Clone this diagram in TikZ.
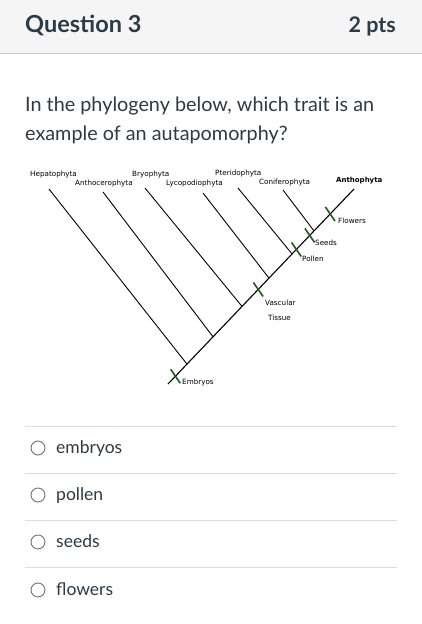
\documentclass[tikz,border=0pt]{standalone}
\usepackage{fontspec}
\setmainfont{Lato}
\newfontfamily\treefont{DejaVu Sans}
\usetikzlibrary{calc}
\definecolor{hdrbg}{HTML}{F5F5F5}
\definecolor{hdrline}{HTML}{C7CDD1}
\definecolor{txt}{HTML}{2D3B45}
\definecolor{sepline}{HTML}{DDDDDD}
\definecolor{tickgreen}{HTML}{1E5A1E}
\definecolor{radio}{HTML}{737373}
\tikzset{
  hdr/.style={anchor=base west,inner sep=0,text=txt,font=\bfseries\fontsize{23.5}{26}\selectfont},
  qtext/.style={anchor=base west,inner sep=0,text=txt,font=\fontsize{19.8}{23}\selectfont},
  opt/.style={anchor=base west,inner sep=0,text=txt,font=\fontsize{17.5}{20}\selectfont},
  radiobtn/.style={draw=radio,line width=0.9pt},
  sepl/.style={draw=sepline,line width=1pt},
  tlabel/.style={inner sep=0,font=\treefont\fontsize{7.2}{8}\selectfont},
  mainline/.style={draw=black,line width=1.1pt},
  branch/.style={draw=black,line width=0.9pt},
  trait/.style={draw=tickgreen,line width=1.6pt}
}
\begin{document}
\begin{tikzpicture}[x=1pt,y=-1pt]
\useasboundingbox (0,0) rectangle (422,624);
\fill[white] (0,0) rectangle (422,624);
% header
\fill[hdrbg] (0,0) rectangle (422,53);
\draw[hdrline,line width=1pt] (0,53) -- (422,53);
\node[hdr] (qtitle) at (25,32) {Question 3};
\node[hdr,anchor=base east,font=\bfseries\fontsize{21.5}{26}\selectfont] (pts) at (396,32) {2 pts};
% question
\node[qtext] (q1) at (25,111) {In the phylogeny below, which trait is an};
\node[qtext] (q2) at (25,140) {example of an autapomorphy?};
% tree
\coordinate (root) at (168,384);
\coordinate (top) at (354,189);
\draw[mainline] (root) -- (top);
\coordinate (jHep) at ($(root)!0.102!(top)$);
\coordinate (jAnt) at ($(root)!0.242!(top)$);
\coordinate (jBry) at ($(root)!0.398!(top)$);
\coordinate (jLyc) at ($(root)!0.543!(top)$);
\coordinate (jPte) at ($(root)!0.667!(top)$);
\coordinate (jCon) at ($(root)!0.785!(top)$);
\coordinate (tHep) at (49,189);
\coordinate (tAnt) at (103,192);
\coordinate (tBry) at (145,188);
\coordinate (tLyc) at (203,193);
\coordinate (tPte) at (238,188);
\coordinate (tCon) at (283,190);
\draw[branch] (tHep) -- (jHep);
\draw[branch] (tAnt) -- (jAnt);
\draw[branch] (tBry) -- (jBry);
\draw[branch] (tLyc) -- (jLyc);
\draw[branch] (tPte) -- (jPte);
\draw[branch] (tCon) -- (jCon);
% trait ticks
\coordinate (kEmb) at ($(root)!0.040!(top)$);
\coordinate (kVas) at ($(root)!0.485!(top)$);
\coordinate (kPol) at ($(root)!0.690!(top)$);
\coordinate (kSee) at ($(root)!0.762!(top)$);
\coordinate (kFlo) at ($(root)!0.872!(top)$);
\foreach \k in {kEmb,kVas,kPol,kSee,kFlo}
  \draw[trait] ($(\k)+(-4.8,-7)$) -- ($(\k)+(4.8,7)$);
% taxon labels
\node[tlabel,anchor=west] (lHep) at (30,175) {Hepatophyta};
\node[tlabel,anchor=west] (lAnt) at (75,184) {Anthocerophyta};
\node[tlabel,anchor=west] (lBry) at (132,175) {Bryophyta};
\node[tlabel,anchor=west] (lLyc) at (166,184) {Lycopodiophyta};
\node[tlabel,anchor=west] (lPte) at (215,174) {Pteridophyta};
\node[tlabel,anchor=west] (lCon) at (259,183) {Coniferophyta};
\node[tlabel,anchor=west,font=\treefont\bfseries\fontsize{7}{8}\selectfont] (lAnth) at (336,181) {Anthophyta};
% trait labels
\node[tlabel,anchor=west] (lFlo) at (338,221) {Flowers};
\node[tlabel,anchor=west] (lSee) at (315,243) {Seeds};
\node[tlabel,anchor=west] (lPol) at (302,259) {Pollen};
\node[tlabel,anchor=west] (lVas) at (265,303) {Vascular};
\node[tlabel,anchor=west] (lTis) at (268,318) {Tissue};
\node[tlabel,anchor=west] (lEmb) at (182,383) {Embryos};
% answers
\draw[sepl] (25,426) -- (397,426);
\draw[sepl] (25,473) -- (397,473);
\draw[sepl] (25,520) -- (397,520);
\draw[sepl] (25,567) -- (397,567);
\draw[radiobtn] (38,448) circle (7);
\draw[radiobtn] (38,495) circle (7);
\draw[radiobtn] (38,542) circle (7);
\draw[radiobtn] (38,590) circle (7);
\node[opt] (a1) at (56,453) {embryos};
\node[opt] (a2) at (56,500.5) {pollen};
\node[opt] (a3) at (56,547.5) {seeds};
\node[opt] (a4) at (56,595) {flowers};
\end{tikzpicture}
\end{document}
